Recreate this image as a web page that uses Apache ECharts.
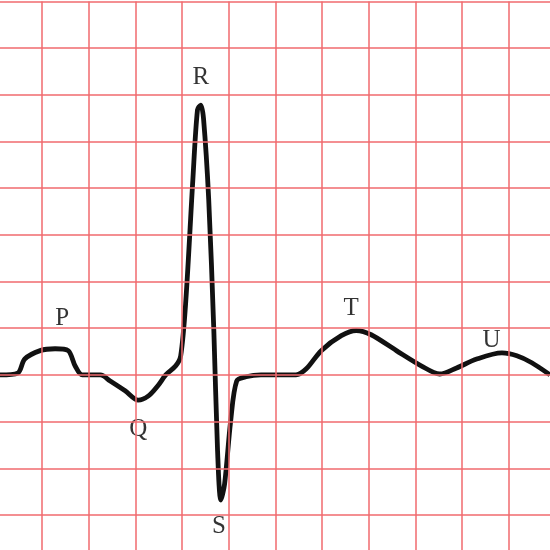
<!DOCTYPE html>
<html>
<head>
<meta charset="utf-8">
<script src="https://cdn.jsdelivr.net/npm/echarts@6/dist/echarts.min.js"></script>
<style>html,body{margin:0;padding:0;background:#fff}#main{width:550px;height:550px}</style>
</head>
<body>
<div id="main"></div>
<script>
// waveform, in grid cells (x right, y up from baseline)
var traceX = [-0.9, -0.52, -0.37, -0.04, 0.28, 0.56, 0.71, 0.86, 1.25, 1.46, 1.78, 2.06, 2.28, 2.49, 2.65, 2.86, 2.97, 3.08, 3.23, 3.33, 3.40, 3.46, 3.57, 3.68, 3.76, 3.83, 3.91, 4.04, 4.17, 4.37, 4.69, 5.44, 5.66, 5.98, 6.41, 6.73, 7.05, 7.59, 8.13, 8.52, 8.88, 9.31, 9.85, 10.17, 10.49, 10.88];
var traceY = [0, 0.04, 0.34, 0.52, 0.56, 0.52, 0.19, 0, 0, -0.13, -0.34, -0.54, -0.45, -0.22, 0, 0.19, 0.41, 1.59, 4.17, 5.68, 5.78, 5.48, 3.76, 0.95, -1.63, -2.68, -2.34, -0.99, -0.13, -0.04, 0, 0, 0.13, 0.52, 0.84, 0.95, 0.86, 0.52, 0.19, 0.02, 0.15, 0.34, 0.47, 0.41, 0.26, 0];
var gridX = [0, 1, 2, 3, 4, 5, 6, 7, 8, 9, 10];
var gridY = [-3, -2, -1, 0, 1, 2, 3, 4, 5, 6, 7, 8];
var labelNames = ['P', 'Q', 'R', 'S', 'T', 'U'];
var labelX = [0.43, 2.06, 3.40, 3.79, 6.62, 9.63];
var labelY = [1.21, -1.16, 6.37, -3.25, 1.42, 0.73];

var myChart = echarts.init(document.getElementById('main'));
var gridColor = '#f06a6e';
var noAxis = { show: false };
var option = {
  backgroundColor: '#fff',
  animation: false,
  grid: { left: 0, top: 1.4, width: 550, height: 548.6 },
  xAxis: {
    type: 'value', min: -0.9, max: 10.88,
    axisLine: noAxis, axisTick: noAxis, axisLabel: noAxis, splitLine: noAxis
  },
  yAxis: {
    type: 'value', min: -3.75, max: 8,
    axisLine: noAxis, axisTick: noAxis, axisLabel: noAxis, splitLine: noAxis
  },
  series: [{
    type: 'line',
    smooth: 0.3,
    symbol: 'none',
    z: 3,
    lineStyle: { color: '#111', width: 4.8 },
    markLine: {
      silent: true, symbol: 'none', label: { show: false },
      lineStyle: { color: gridColor, width: 1.5, type: 'solid' },
      data: gridX.map(function (x) { return { xAxis: x }; })
        .concat(gridY.map(function (y) { return { yAxis: y }; }))
    },
    data: traceX.map(function (x, i) { return [x, traceY[i]]; })
  }, {
    type: 'scatter',
    symbolSize: 0,
    z: 4,
    label: {
      show: true, position: 'inside',
      formatter: function (p) { return labelNames[p.dataIndex]; },
      fontFamily: 'Liberation Serif', fontSize: 25, color: '#000'
    },
    data: labelX.map(function (x, i) { return [x, labelY[i]]; })
  }]
};
myChart.setOption(option);
</script>
</body>
</html>
